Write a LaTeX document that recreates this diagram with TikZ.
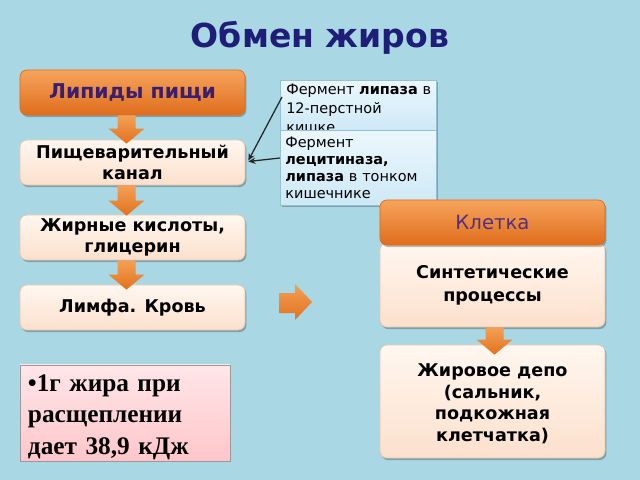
\documentclass[tikz,border=0pt]{standalone}
\usepackage{fontspec}
\setmainfont{DejaVu Sans}
\newfontfamily\timesfam{Liberation Serif}
\usetikzlibrary{shadows,calc,arrows.meta}
\def\pxu{0.7113pt}
\definecolor{bgblue}{HTML}{AAD7E4}
\definecolor{titleblue}{HTML}{1E1E78}
\definecolor{peachT}{HTML}{FFF7F0}
\definecolor{peachB}{HTML}{FCE0CC}
\definecolor{peachD}{HTML}{E2C4AC}
\definecolor{orT}{HTML}{F6A45C}
\definecolor{orB}{HTML}{DF6D1C}
\definecolor{purpletxt}{HTML}{3B1E6E}
\definecolor{purplelight}{HTML}{55307F}
\definecolor{pinkT}{HTML}{FFE6E8}
\definecolor{pinkB}{HTML}{FFC6CA}
\definecolor{calT}{HTML}{ECF7FD}
\definecolor{calB}{HTML}{CDE9F6}
\definecolor{calD}{HTML}{98C0D3}
\definecolor{arT}{HTML}{F4A055}
\definecolor{arB}{HTML}{E2721F}
\newcommand\blockdown[4]{%
  \path[oarrow] ($(#1.south)+(#3-9,0)$) -- ($(#1.south)+(#3+9,0)$)
    -- ($(#2.north)+(#3+9,#4-15)$) -- ($(#2.north)+(#3+18,#4-15)$)
    -- ($(#2.north)+(#3,#4)$) -- ($(#2.north)+(#3-18,#4-15)$)
    -- ($(#2.north)+(#3-9,#4-15)$) -- cycle;}
\begin{document}
\begin{tikzpicture}[x=0.025cm,y=-0.025cm,
  shad/.style={drop shadow={shadow xshift=1pt,shadow yshift=-1.5pt,opacity=0.25,fill=black}},
  peach/.style={shad,rounded corners=5pt,top color=peachT,bottom color=peachB,draw=peachD,
    line width=0.5pt,minimum width=225*\pxu,inner sep=0pt,align=center,
    font=\bfseries\fontsize{12.5}{15}\selectfont},
  orangehead/.style={shad,rounded corners=5pt,top color=orT,bottom color=orB,draw=orB,
    line width=0.5pt,minimum width=225*\pxu,minimum height=45*\pxu,inner sep=0pt,align=center},
  callout/.style={shad,top color=calT,bottom color=calB,draw=calD,line width=0.5pt,
    minimum width=156*\pxu,inner sep=0pt},
  calltext/.style={align=left,font=\fontsize{10.3}{13.5}\selectfont,inner sep=0pt},
  oarrow/.style={top color=arT,bottom color=arB},
  conn/.style={line width=0.9pt,draw=black!85,-{Stealth[length=5pt,width=4.5pt]}}]
\useasboundingbox (0,0) rectangle (640,480);
\fill[bgblue] (0,0) rectangle (640,480);

\node[font=\bfseries\fontsize{23.5}{27}\selectfont,text=titleblue] (title) at (320,38) {Обмен жиров};

% left column
\node[orangehead,text=purpletxt,font=\bfseries\fontsize{14.5}{17}\selectfont] (lip) at (132.5,92.5) {Липиды пищи};
\node[peach,minimum height=45*\pxu] (kan) at (132.5,162.5) {Пищеварительный\\канал};
\node[peach,minimum height=45*\pxu] (zhk) at (132.5,237.5) {Жирные кислоты,\\глицерин};
\node[peach,minimum height=45*\pxu] (lim) at (132.5,307.5) {Лимфа. Кровь};

\blockdown{lip}{kan}{-6}{4}
\blockdown{kan}{zhk}{-6}{1}
\blockdown{zhk}{lim}{-6}{5}

% free right arrow
\path[oarrow] (279,293) -- (295,293) -- (295,284) -- (312,302) -- (295,320) -- (295,313) -- (279,313) -- cycle;

% energy box
\node[top color=pinkT,bottom color=pinkB,draw=black!40,line width=0.5pt,
  minimum width=210*\pxu,minimum height=96*\pxu,inner sep=0pt] (pink) at (125,413) {};
\node[text width=200*\pxu,align=left,inner sep=0pt,
  font=\timesfam\bfseries\fontsize{18}{22.5}\selectfont] (pinkt) at (128,417)
  {\textbullet1г жира при\\расщеплении\\дает 38,9 кДж};

% callouts
\node[callout,minimum height=50*\pxu,anchor=north west] (c1) at (280,80) {};
\node[calltext,anchor=north west] (c1t) at (286,84) {Фермент \textbf{липаза} в\\12-перстной\\кишке};
\node[callout,minimum height=75*\pxu,anchor=north west,text width=146*\pxu,align=left,
  font=\fontsize{10.3}{12.3}\selectfont,inner xsep=5*\pxu] (c2) at (280,130)
  {Фермент\\\textbf{лецитиназа,}\\\textbf{липаза} в тонком\\кишечнике};

\draw[conn] ($(c1.north west)+(2,17)$) -- ($(kan.east)+(3,-2)$);
\draw[conn] ($(c2.north west)+(0,28)$) -- ($(kan.east)+(3,-1)$);

% right column
\node[peach,minimum height=84*\pxu,font=\bfseries\fontsize{12.5}{16.5}\selectfont] (syn) at (492.5,285) {Синтетические\\процессы};
\node[orangehead,text=purplelight,font=\fontsize{14}{16}\selectfont] (klet) at (492.5,222.5) {Клетка};
\node[peach,minimum height=113*\pxu,font=\bfseries\fontsize{12.5}{15.3}\selectfont] (depo) at (492.5,401.5)
  {\\[-3pt]Жировое депо\\(сальник,\\подкожная\\клетчатка)};
\blockdown{syn}{depo}{2}{10}
\end{tikzpicture}
\end{document}
